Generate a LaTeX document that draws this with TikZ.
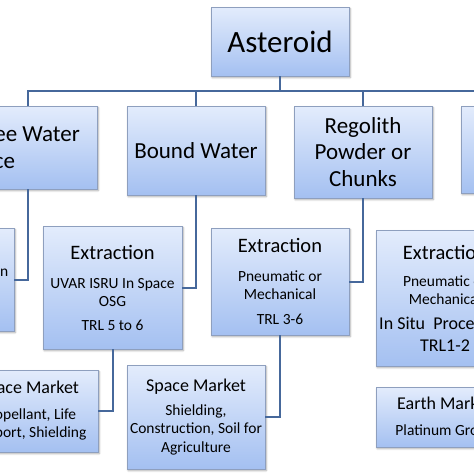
\documentclass[tikz,border=0pt]{standalone}
\usepackage{fontspec}
\setmainfont{Carlito}
\usepackage{tikz}
\usetikzlibrary{calc,positioning,shadows.blur}
\definecolor{boxtop}{HTML}{E3ECFC}
\definecolor{boxbot}{HTML}{A4C0F1}
\definecolor{boxedge}{HTML}{8E9FBE}
\definecolor{linkblue}{HTML}{46689B}
\newcommand{\xhead}{\fontsize{20.5}{24}\selectfont}
\newcommand{\mhead}{\fontsize{18}{22}\selectfont}

\begin{document}
\begin{tikzpicture}[
    x=1pt, y=-1pt,
    nosep/.style={inner sep=0},
    box/.style={
        rectangle, draw=boxedge, line width=0.6pt,
        top color=boxtop, bottom color=boxbot,
        minimum width=138pt, inner sep=2pt, align=center,
        blur shadow={shadow blur steps=6, shadow xshift=1.2pt, shadow yshift=-1.6pt, shadow opacity=35}},
    topbox/.style={box, font=\fontsize{31}{36}\selectfont},
    kindbox/.style={box, font=\fontsize{23}{26.5}\selectfont},
    stagebox/.style={box, font=\fontsize{15.5}{18}\selectfont},
    stageline/.style={nosep, font=\fontsize{15.5}{18}\selectfont},
    link/.style={draw=linkblue, line width=2pt}]
\useasboundingbox (0,0) rectangle (474,474);
\clip (0,0) rectangle (474,474);

\node[topbox, minimum height=69pt] (asteroid) at (280,41.5) {Asteroid};

\node[kindbox, minimum height=83pt, align=left] (freewater) at (28,147.5) {Free Water\\\hspace*{0.52em}Ice};
\node[kindbox, minimum height=89pt] (boundwater) at (196,150.5) {Bound Water};
\node[kindbox, minimum height=92pt] (regolith) at (363,152) {Regolith\\Powder or\\Chunks};
\node[kindbox, minimum height=87pt] (rightkind) at (530,149.5) {};

\node[stagebox, minimum height=103pt] (freeext) at (-55,279.5) {};
\node[stageline, anchor=base east] (freeextline) at (8.5,276.6) {n};
\node[stagebox, minimum height=123pt, minimum width=139pt] (boundext) at (112.5,287.5)
    {{\xhead Extraction}\\[11pt]UVAR ISRU In Space\\OSG\\[6pt]TRL 5 to 6};
\node[stagebox, minimum height=107pt] (regext) at (280,281.5)
    {{\xhead Extraction}\\[11pt]Pneumatic or\\Mechanical\\[7pt]TRL 3-6};
\node[stagebox, minimum height=136pt] (rightext) at (445,298)
    {{\xhead Extraction}\\[9pt]Pneumatic or\\Mechanical\\[7pt]{\mhead In Situ\ \ Processing}\\[4pt]{\mhead TRL1-2}};

\node[stagebox, minimum height=82pt] (boundmarket) at (29,411)
    {{\mhead Space Market}\\[8pt]Propellant, Life\\Support, Shielding};
\node[stagebox, minimum height=104pt] (regmarket) at (196,417)
    {{\mhead Space Market}\\[6pt]Shielding,\\Construction, Soil for\\[1pt]Agriculture};
\node[stagebox, minimum height=60pt] (earthmarket) at (445,417)
    {{\mhead Earth Market}\\[8pt]Platinum Group};

\coordinate (bus) at ($(asteroid.south)+(0,15)$);
\path[link] (asteroid.south) -- (bus);
\path[link] (bus) -| (freewater.north);
\path[link] (bus) -| (boundwater.north);
\path[link] (bus) -| (regolith.north);
\path[link] (bus) -| (rightkind.north);

\path[link] (freewater.south) |- (freeext.east);
\path[link] (boundwater.south) |- (boundext.east);
\path[link] (regolith.south) |- (regext.east);
\path[link] (rightkind.south) |- (rightext.east);

\path[link] (boundext.south) |- (boundmarket.east);
\path[link] (regext.south) |- (regmarket.east);

\end{tikzpicture}
\end{document}
